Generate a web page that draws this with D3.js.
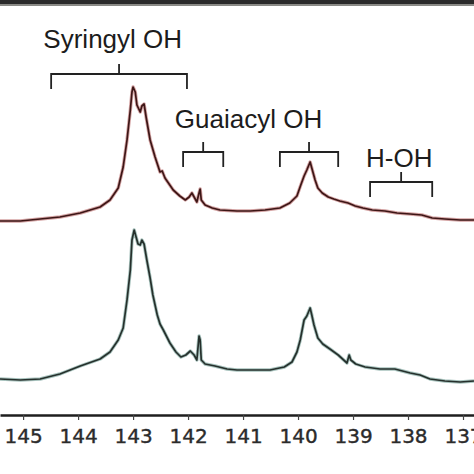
<!DOCTYPE html>
<html>
<head>
<meta charset="utf-8">
<script src="https://cdn.jsdelivr.net/npm/d3@7"></script>
<style>
  html, body { margin: 0; padding: 0; background: #fff; }
  svg { display: block; }
</style>
</head>
<body>
<div id="chart"></div>
<script>
// chemical shift (ppm) and intensity (a.u.)
const topPpm = [145.42, 145.05, 144.69, 144.33, 143.96, 143.60, 143.42, 143.27, 143.18, 143.11, 143.05, 143.02, 143.00, 142.96, 142.93, 142.87, 142.84, 142.80, 142.76, 142.69, 142.60, 142.51, 142.47, 142.42, 142.27, 142.15, 142.05, 141.98, 141.93, 141.87, 141.84, 141.80, 141.78, 141.76, 141.69, 141.56, 141.42, 141.11, 140.87, 140.60, 140.33, 140.15, 140.02, 139.95, 139.89, 139.84, 139.78, 139.75, 139.69, 139.64, 139.56, 139.45, 139.35, 139.24, 139.09, 138.96, 138.82, 138.65, 138.42, 138.20, 137.96, 137.75, 137.56, 137.33, 137.05, 136.80];
const topVal = [48.25, 48.25, 48.75, 49.25, 50.25, 51.75, 53.5, 56.5, 61.75, 68.5, 76, 80.5, 81.75, 80.5, 77.25, 75.5, 77, 77.5, 74, 68.5, 64.25, 60.5, 60.75, 59, 56, 54.5, 53.5, 54.25, 55.25, 53.75, 53, 55.25, 56.25, 53.5, 52.25, 51.5, 51, 50.75, 50.75, 51, 51.5, 52.75, 54.5, 57.25, 59.5, 61, 63, 61.5, 58.5, 56.5, 55.25, 54.25, 53.75, 53.25, 52.75, 52, 51.5, 51, 50.75, 50.25, 50, 49.75, 49, 48.75, 48.5, 48.5];

const botPpm = [145.42, 145.05, 144.69, 144.33, 143.96, 143.60, 143.42, 143.27, 143.18, 143.11, 143.05, 143.02, 142.98, 142.95, 142.91, 142.87, 142.84, 142.80, 142.75, 142.69, 142.64, 142.56, 142.51, 142.45, 142.33, 142.22, 142.13, 142.04, 141.96, 141.89, 141.84, 141.80, 141.78, 141.76, 141.69, 141.51, 141.29, 141.11, 140.78, 140.51, 140.25, 140.11, 140.02, 139.96, 139.89, 139.84, 139.78, 139.75, 139.71, 139.64, 139.55, 139.42, 139.27, 139.15, 139.11, 139.07, 139.04, 138.95, 138.78, 138.51, 138.24, 137.96, 137.78, 137.60, 137.33, 137.05, 136.80];
const botVal = [8.75, 8.5, 8.75, 10, 12, 13.75, 15.5, 18.5, 21.5, 28.5, 36, 43.5, 46, 44.5, 42.5, 42.25, 43.5, 42.5, 38.5, 34, 29.75, 24.75, 22.5, 21, 17.75, 15.5, 14.25, 14.75, 15.75, 14.75, 13.5, 19.5, 18.5, 13.5, 12.5, 12, 11.25, 11, 11, 11, 11.75, 13, 15.5, 18.5, 23.5, 24.5, 26.5, 24.75, 22.25, 19, 17.5, 16.25, 14.75, 13.25, 12.75, 14.75, 13.5, 12.5, 11.75, 11.25, 11.25, 10.25, 9.75, 8.75, 8.25, 8, 8.25];

const tickPpm = [145, 144, 143, 142, 141, 140, 139, 138, 137];

// region brackets: label, from, to (ppm), bar level and label level (a.u.)
const bracketLabels = ["Syringyl OH", "Guaiacyl OH", "H-OH"];
const bracketFrom = [[144.49], [142.09, 140.33], [138.69]];
const bracketTo   = [[142.02], [141.36, 139.27], [137.56]];
const bracketLevel = [85, 65.5, 58];
const labelLevel = [91.5, 71.5, 61.75];
const labelPpm = [143.37, 140.9, 138.16];

const W = 474, H = 474;
const axisY = 415;

const svg = d3.select("#chart").append("svg")
  .attr("width", W).attr("height", H);

const x = d3.scaleLinear().domain([145.42, 136.80]).range([0, W]);
const y = d3.scaleLinear().domain([0, 100]).range([414, 14]);

// top frame edge
svg.append("rect").attr("x", 0).attr("y", 0).attr("width", W).attr("height", 4).attr("fill", "#2a2a2a");
svg.append("rect").attr("x", 0).attr("y", 4).attr("width", W).attr("height", 2).attr("fill", "#8a8a86");

// x axis
const xAxis = svg.append("g")
  .attr("transform", `translate(0,${axisY})`)
  .call(d3.axisBottom(x).tickValues(tickPpm).tickSize(5).tickSizeOuter(0).tickFormat(d3.format("d")));
xAxis.select(".domain").attr("stroke", "#1e1e1e").attr("stroke-width", 2.6);
xAxis.selectAll(".tick line").attr("stroke", "#444").attr("stroke-width", 1.2);
xAxis.selectAll(".tick text")
  .attr("y", 14)
  .attr("fill", "#2b2b2b")
  .attr("stroke", "#2b2b2b")
  .attr("stroke-width", 0.4)
  .style("font-family", "'DejaVu Sans', Verdana, sans-serif")
  .style("font-size", "20px");

const line = d3.line().x(d => x(d[0])).y(d => y(d[1]));

function spectrum(ppm, val, halo, core) {
  const data = d3.zip(ppm, val);
  svg.append("path").datum(data)
    .attr("fill", "none").attr("stroke", halo).attr("stroke-width", 3.4)
    .attr("stroke-linejoin", "round").attr("opacity", 0.55).attr("d", line);
  svg.append("path").datum(data)
    .attr("fill", "none").attr("stroke", core).attr("stroke-width", 1.7)
    .attr("stroke-linejoin", "round").attr("d", line);
}

spectrum(topPpm, topVal, "#b15a5a", "#3d1616");
spectrum(botPpm, botVal, "#5f8f86", "#26302c");

// brackets and labels
const ann = svg.append("g").attr("stroke", "#222").attr("stroke-width", 1.8).attr("fill", "none");
bracketLabels.forEach((lab, i) => {
  const yb = y(bracketLevel[i]);
  bracketFrom[i].forEach((f, j) => {
    const x0 = x(f), x1 = x(bracketTo[i][j]);
    const xm = (x0 + x1) / 2;
    ann.append("path").attr("d", `M${x0},${yb + 15}V${yb}H${x1}V${yb + 15}M${xm},${yb}V${yb - 10}`);
  });
});

svg.append("g").selectAll("text")
  .data(bracketLabels)
  .join("text")
  .attr("x", (d, i) => x(labelPpm[i]))
  .attr("y", (d, i) => y(labelLevel[i]))
  .attr("text-anchor", "middle")
  .attr("fill", "#1c1c1c")
  .style("font-family", "'Liberation Sans', Arial, sans-serif")
  .style("font-size", "26px")
  .text(d => d);
</script>
</body>
</html>
